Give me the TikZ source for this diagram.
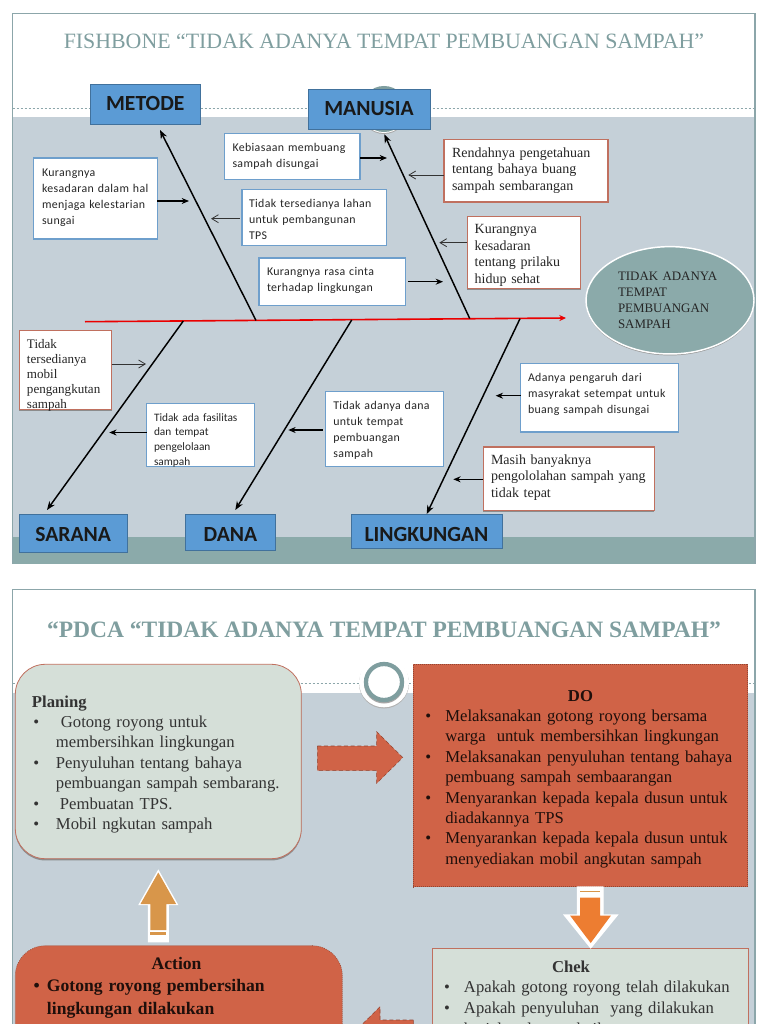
\documentclass[tikz,border=0pt]{standalone}
\usepackage{fontspec}
\setmainfont{Liberation Serif}
\newfontfamily\calfont[LetterSpace=3]{Carlito}
\newfontfamily\calbold{Carlito}
\usetikzlibrary{shapes.geometric,arrows.meta,calc}
\definecolor{slidebg}{HTML}{C5D0D8}
\definecolor{teal}{HTML}{8BAAAA}
\definecolor{frameline}{HTML}{8CA6AA}
\definecolor{headblue}{HTML}{5B9BD5}
\definecolor{headedge}{HTML}{41719C}
\definecolor{blueedge}{HTML}{6E9FCC}
\definecolor{rededge}{HTML}{C0705F}
\definecolor{sage}{HTML}{D5DFD8}
\definecolor{brick}{HTML}{D06347}
\definecolor{ochre}{HTML}{D8964A}
\definecolor{orangefill}{HTML}{ED7D31}
\definecolor{titleteal}{HTML}{7F9E9F}
\tikzset{
  bluebox/.style={draw=blueedge,line width=0.8pt,fill=white,font=\calfont\fontsize{8.9}{12}\selectfont,text=black!85},
  redbox/.style={draw=rededge,line width=0.8pt,fill=white,font=\fontsize{10.5}{12.5}\selectfont,text=black!85,
     preaction={fill=black!45,transform canvas={yshift=-1.1pt}}},
  headbox/.style={draw=headedge,line width=0.7pt,fill=headblue,font=\calbold\bfseries\fontsize{16.2}{18}\selectfont,text=black!90},
  bone/.style={line width=1.1pt,draw=black,-{Stealth[length=6.5pt,width=5pt]}},
  tickfilled/.style={line width=0.8pt,draw=black,-{Stealth[length=5.5pt,width=4.5pt]}},
  tickopen/.style={line width=0.6pt,draw=black!80,-{Straight Barb[length=5pt,width=6pt]}},
  sagebox/.style={draw=rededge,line width=0.6pt,fill=sage,font=\fontsize{12.5}{15.3}\selectfont,text=black!80},
  brickbox/.style={draw=brick!70!black,densely dotted,line width=0.5pt,fill=brick,font=\fontsize{12.5}{15.3}\selectfont,text=black!85!brick},
  titletext/.style={inner sep=0pt,text=titleteal},
  blockarrow/.style={draw=brick!70!black,densely dashed,line width=0.4pt,fill=brick}
}
% [style]{name}{x1}{y1}{x2}{y2}{text x}{first baseline y}{text}
\newcommand\boxn[9][]{%
  \pgfmathsetmacro\bw{(#5-#3)*0.75}%
  \pgfmathsetmacro\bh{(#8-#4)*0.75}%
  \pgfmathsetmacro\bd{(#6-#8)*0.75}%
  \pgfmathsetmacro\bl{(#7-#3)*0.75}%
  \pgfmathsetmacro\bcx{#3}%
  \pgfmathsetmacro\bcy{#6}%
  \node[#1,anchor=south west,inner sep=0pt,outer sep=0pt,text width=\bw pt,align=left,
        text height=\bh pt,text depth=\bd pt] (#2) at (\bcx,\bcy) {\leftskip=\bl pt\relax #9\par};}
\newcommand\headn[7]{%
  \pgfmathsetmacro\bw{(#4-#2)*0.75}%
  \pgfmathsetmacro\bh{(#5-#3)*0.75}%
  \node[headbox,inner sep=0pt,outer sep=0pt,minimum width=\bw pt,minimum height=\bh pt,anchor=south west] (#1) at (#2,#5) {\raisebox{#7}[\height][\depth]{#6}};}
\newcommand\bul[1][18]{\makebox[0pt][r]{\makebox[#1pt][l]{\textbullet}}}
\begin{document}
\begin{tikzpicture}[x=0.75pt,y=-0.75pt]
\useasboundingbox (0,0) rectangle (768,1024);
\clip (0,0) rectangle (768,1024);
\fill[white] (0,0) rectangle (768,1024);
% --- slide 1 ---
\fill[slidebg] (12.5,117) rectangle (755,564);
\fill[teal] (12.5,537) rectangle (755,564);
\draw[frameline,line width=0.8pt] (12.5,564) -- (12.5,13.5) -- (755,13.5) -- (755,564);
\draw[frameline,dashed,line width=0.4pt,dash pattern=on 2pt off 1pt] (12.5,108) -- (755,108);
\node[titletext,font=\fontsize{16.4}{20}\selectfont] (title1) at (384,41) {FISHBONE “TIDAK ADANYA TEMPAT PEMBUANGAN SAMPAH”};
% hub circle behind MANUSIA
\fill[black!35] (384,110.5) circle (23.5);
\fill[white] (384,109.5) circle (23.5);
\draw[titleteal,line width=3pt] (384,109) circle (21);
\headn{metode}{90}{84}{200.5}{124}{METODE}{0.7pt}
\headn{manusia}{308}{89}{430}{129}{MANUSIA}{0.7pt}
\headn{sarana}{19.3}{514.3}{127}{552.3}{SARANA}{-0.8pt}
\headn{dana}{185.3}{514.3}{275.7}{550.3}{DANA}{-1.5pt}
\headn{lingkungan}{351}{514.7}{502}{548.7}{LINGKUNGAN}{-2.2pt}
% spine and bones
\coordinate (spineL) at (85,321.7);
\coordinate (spineR) at (566,318);
\coordinate (j1) at (256,320.4);
\coordinate (j2) at (469.7,318.5);
\coordinate (j3) at (183.3,321);
\coordinate (j4) at (351.7,320);
\coordinate (j5) at (520,318.7);
\coordinate (b1) at (160,130);
\coordinate (b2) at (384.3,134.3);
\coordinate (b3) at (47,510);
\coordinate (b4) at (235.3,510);
\coordinate (b5) at (426.7,514);
\draw[line width=1.2pt,draw=red!92!black,-{Stealth[length=5pt,width=4.5pt]}] (spineL) -- (spineR);
\draw[bone] (j1) -- (b1);
\draw[bone] (j2) -- (b2);
\draw[bone] (j3) -- (b3);
\draw[bone] (j4) -- (b4);
\draw[bone] (j5) -- (b5);
% cause boxes
\boxn[bluebox]{c1}{224.7}{133.7}{360}{179.3}{232.5}{151.5}{Kebiasaan membuang\\sampah disungai}
\boxn[bluebox]{c2}{242}{189.3}{386.3}{245.3}{249}{207.5}{Tidak tersedianya lahan\\untuk pembangunan\\TPS}
\boxn[bluebox]{c3}{259}{258}{405.7}{305.3}{267}{275.5}{Kurangnya rasa cinta\\terhadap lingkungan}
\boxn[bluebox]{c4}{33.3}{158}{157.3}{239}{42}{176}{Kurangnya\\kesadaran dalam hal\\menjaga kelestarian\\sungai}
\boxn[redbox]{c5}{444}{139.7}{608}{202}{452}{157}{Rendahnya pengetahuan\\tentang bahaya buang\\sampah sembarangan}
\boxn[redbox]{c6}{467.3}{216.3}{580.7}{288.7}{474.7}{233.5}{Kurangnya\\kesadaran\\tentang prilaku\\hidup sehat}
\boxn[redbox,font=\fontsize{9.8}{11.3}\selectfont]{c7}{19.3}{330.7}{111.7}{409.3}{27}{348}{Tidak\\tersedianya\\mobil\\pengangkutan\\sampah}
\boxn[bluebox,font=\calbold\fontsize{8.5}{11}\selectfont]{c8}{146.7}{403.3}{254.3}{466.7}{154}{421}{Tidak ada fasilitas\\dan tempat\\pengelolaan\\sampah}
\boxn[bluebox]{c9}{325.7}{391.3}{443.3}{466.3}{333.3}{409}{Tidak adanya dana\\untuk tempat\\pembuangan\\sampah}
\boxn[bluebox]{c10}{520.7}{363.3}{678.7}{432}{528}{381.5}{Adanya pengaruh dari\\masyrakat setempat untuk\\buang sampah disungai}
\boxn[redbox]{c11}{483.3}{447}{654.3}{510.7}{491}{464}{Masih banyaknya\\pengololahan sampah yang\\tidak tepat}
\node[ellipse,draw=white,line width=1.1pt,fill=teal,minimum width=126pt,minimum height=80.5pt,inner sep=0pt,
      text width=78pt,align=left,font=\fontsize{9.7}{12}\selectfont,text=black!85,
      preaction={fill=black!40,transform canvas={yshift=-1.1pt}}] (effect) at (670,300.3)
      {TIDAK ADANYA\\TEMPAT\\PEMBUANGAN\\SAMPAH};
% tick arrows
\coordinate (t1) at (387,158);
\coordinate (t2) at (408.3,175);
\coordinate (t3) at (439.3,242.7);
\coordinate (t4) at (443,281.7);
\coordinate (t5) at (189,201);
\coordinate (t6) at (211,218.7);
\coordinate (t7) at (146,364);
\coordinate (t8) at (109.3,432.5);
\coordinate (t9) at (288.3,430);
\coordinate (t10) at (495.7,395.7);
\coordinate (t11) at (453.3,479.3);
\draw[tickfilled] (c1.east |- t1) -- (t1);
\draw[tickopen] (c5.west |- t2) -- (t2);
\draw[tickopen] (c6.west |- t3) -- (t3);
\draw[tickfilled] ($(c3.east |- t4)+(2.5,0)$) -- (t4);
\draw[tickfilled] (c4.east |- t5) -- (t5);
\draw[tickopen] ($(c2.west |- t6)+(-2.5,0)$) -- (t6);
\draw[tickopen] (c7.east |- t7) -- (t7);
\draw[tickfilled] (c8.west |- t8) -- (t8);
\draw[tickfilled] ($(c9.west |- t9)+(-3,0)$) -- (t9);
\draw[tickfilled] (c10.west |- t10) -- (t10);
\draw[tickfilled] (c11.west |- t11) -- (t11);
% --- slide 2 ---
\fill[slidebg] (12.5,692.5) rectangle (755,1024);
\draw[frameline,line width=0.8pt] (12.5,1024) -- (12.5,589.5) -- (755,589.5) -- (755,1024);
\draw[frameline,dashed,line width=0.4pt,dash pattern=on 2pt off 1pt] (12.5,683) -- (755,683);
\node[titletext,font=\bfseries\fontsize{17.6}{20}\selectfont] (title2) at (384,630) {“PDCA “TIDAK ADANYA TEMPAT PEMBUANGAN SAMPAH”};
\fill[black!30] (384,683.5) circle (25);
\fill[white] (384,682.3) circle (25);
\fill[black!35] (384,683.5) circle (20);
\draw[titleteal,line width=3.2pt,fill=white] (384,682) circle (18);
% block arrows
\draw[blockarrow] (317.3,746) -- (376.7,746) -- (376.7,731.7) -- (402.7,757.5) -- (376.7,783.3) -- (376.7,770.7) -- (317.3,770.7) -- cycle;
\draw[blockarrow] (413.3,1020) -- (380,1020) -- (380,1006.7) -- (354,1032.5) -- (380,1058) -- (380,1045) -- (413.3,1045) -- cycle;
% PDCA boxes
\boxn[sagebox,rounded corners=22.5pt,preaction={fill=black!45,transform canvas={yshift=-1.3pt}}]{plan}{15.3}{664.3}{301.3}{858.7}{56}{707}{\hspace*{-18pt}\textbf{Planing}\\\bul[17]\hspace*{3.7pt}Gotong royong untuk\\membersihkan lingkungan\\\bul[17]Penyuluhan tentang bahaya\\pembuangan sampah sembarang.\\\bul[17]\hspace*{3pt}Pembuatan TPS.\\\bul[17]Mobil ngkutan sampah}
\boxn[brickbox]{do}{413.3}{664}{747.7}{886.7}{445.3}{701}{\hspace*{92pt}\textbf{DO}\\\bul[15]Melaksanakan gotong royong bersama\\warga\ \ untuk membersihkan lingkungan\\\bul[15]Melaksanakan penyuluhan tentang bahaya\\pembuang sampah sembaarangan\\\bul[15]Menyarankan kepada kepala dusun untuk\\diadakannya TPS\\\bul[15]Menyarankan kepada kepala dusun untuk\\menyediakan mobil angkutan sampah}
\boxn[sagebox,font=\fontsize{12.5}{15.6}\selectfont]{chek}{432}{948.7}{748.3}{1100}{464}{972}{\hspace*{66pt}\textbf{Chek}\\\bul[15]Apakah gotong royong telah dilakukan\\\bul[15]Apakah penyuluhan\ \ yang dilakukan\\berjalan dengan baik}
\boxn[brickbox,rounded corners=22.5pt,font=\bfseries\fontsize{13.2}{17}\selectfont]{act}{15.3}{945.7}{342.3}{1100}{47}{969}{\hspace*{78.5pt}Action\\\bul[10]Gotong royong pembersihan\\lingkungan dilakukan}
% hollow-edged arrows
\draw[white,line width=1pt,fill=white] (148.5,941.7) -- (148.5,904.5) -- (139.3,904.5) -- (158.3,870.7) -- (177.3,904.5) -- (168.3,904.5) -- (168.3,941.7) -- cycle;
\fill[ochre] (150.3,930) -- (150.3,904) -- (140.5,904) -- (158.3,872.5) -- (176.1,904) -- (166.3,904) -- (166.3,930) -- cycle;
\fill[ochre] (150.3,932) rectangle (166.3,934.5);
\draw[white,line width=1pt,fill=white] (577.5,887) -- (577.5,915) -- (564.3,915) -- (590.7,947.7) -- (617.3,915) -- (603,915) -- (603,887) -- cycle;
\fill[orangefill] (580,897.5) -- (580,915.5) -- (570,915.5) -- (590.7,943) -- (611,915.5) -- (600,915.5) -- (600,897.5) -- cycle;
\fill[ochre] (580,890.5) rectangle (600,891.5);
\end{tikzpicture}
\end{document}
